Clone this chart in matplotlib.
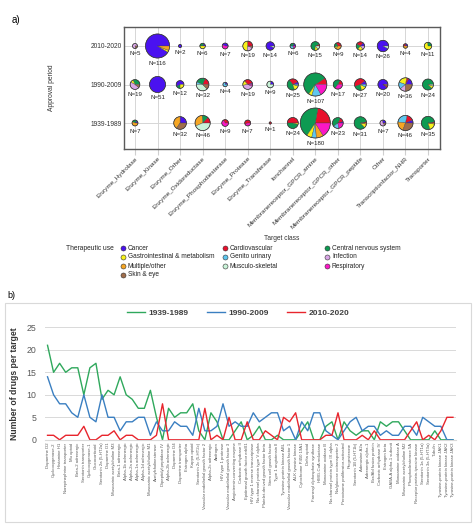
import numpy as np
import matplotlib
matplotlib.use("Agg")
import matplotlib.pyplot as plt
from matplotlib.patches import Wedge, Rectangle

plt.rcParams["font.family"] = ["Liberation Sans", "DejaVu Sans"]

# ---------------- panel a) data ----------------
target_classes = ["Enzyme_Hydrolase", "Enzyme_Kinase", "Enzyme_Other", "Enzyme_Oxidoreductase",
                  "Enzyme_Phosphodiesterase", "Enzyme_Protease", "Enzyme_Transferase", "Ionchannel",
                  "Membranereceptor_GPCR_amine", "Membranereceptor_GPCR_other",
                  "Membranereceptor_GPCR_peptide", "Other", "Transcriptionfactor_NHR", "Transporter"]
periods = ["1939-1989", "1990-2009", "2010-2020"]
uses = ["Cancer", "Cardiovascular", "Central nervous system", "Gastrointestinal & metabolism",
        "Genito urinary", "Infection", "Multiple/other", "Musculo-skeletal", "Respiratory", "Skin & eye"]
use_colors = ["#4a12f0", "#e8102c", "#0d9a52", "#f7f21a", "#5fc6ee",
              "#d9a6e6", "#f6a623", "#c9f3d8", "#fb17c6", "#a06e4c"]

# counts per therapeutic use (order of `uses`), one list per target class
pies_1939 = [[1, 0, 2, 0, 0, 0, 4, 0, 0, 0], [0] * 10, [8, 0, 0, 0, 0, 0, 13, 0, 0, 11],
             [0, 6, 6, 0, 0, 0, 14, 20, 0, 0], [0, 3, 0, 0, 0, 0, 0, 0, 6, 0],
             [0, 4, 0, 0, 0, 0, 0, 0, 3, 0], [0, 1, 0, 0, 0, 0, 0, 0, 0, 0],
             [0, 12, 11, 1, 0, 0, 0, 0, 0, 0], [0, 40, 78, 10, 9, 0, 14, 0, 29, 0],
             [1, 3, 10, 0, 4, 0, 0, 0, 5, 0], [0, 1, 26, 3, 0, 0, 1, 0, 0, 0],
             [2, 0, 0, 0, 0, 4, 0, 0, 0, 1], [3, 7, 0, 0, 12, 0, 10, 0, 0, 14],
             [0, 1, 27, 6, 0, 0, 1, 0, 0, 0]]
pies_1990 = [[0, 0, 6, 2, 0, 9, 0, 0, 0, 2], [51, 0, 0, 0, 0, 0, 0, 0, 0, 0],
             [7, 0, 2, 3, 0, 0, 0, 0, 0, 0], [0, 6, 8, 0, 2, 0, 0, 12, 0, 4],
             [1, 0, 0, 0, 3, 0, 0, 0, 0, 0], [1, 6, 0, 3, 0, 8, 0, 0, 1, 0],
             [2, 0, 0, 0, 0, 0, 0, 7, 0, 0], [2, 7, 11, 4, 1, 0, 0, 0, 0, 0],
             [0, 10, 60, 5, 14, 0, 0, 0, 18, 0], [0, 3, 8, 0, 0, 0, 0, 0, 6, 0],
             [3, 12, 6, 4, 2, 0, 0, 0, 0, 0], [18, 1, 0, 0, 0, 0, 0, 0, 0, 1],
             [6, 2, 0, 8, 6, 5, 0, 0, 0, 9], [0, 0, 21, 2, 0, 0, 0, 1, 0, 0]]
pies_2010 = [[0, 0, 0, 0, 0, 4, 0, 0, 0, 1], [106, 0, 0, 3, 0, 0, 7, 0, 0, 0],
             [2, 0, 0, 0, 0, 0, 0, 0, 0, 0], [1, 0, 2, 3, 0, 0, 0, 0, 0, 0],
             [3, 0, 0, 0, 0, 0, 0, 0, 4, 0], [0, 5, 0, 9, 0, 4, 0, 0, 0, 1],
             [13, 0, 0, 0, 0, 0, 0, 1, 0, 0], [1, 0, 2, 0, 2, 0, 0, 0, 1, 0],
             [0, 1, 10, 2, 0, 0, 0, 2, 0, 0], [0, 3, 2, 1, 0, 0, 3, 0, 0, 0],
             [2, 4, 3, 3, 0, 2, 0, 0, 0, 0], [24, 0, 0, 0, 0, 0, 0, 2, 0, 0],
             [1, 1, 0, 0, 0, 0, 2, 0, 0, 0], [0, 0, 3, 8, 0, 0, 0, 0, 0, 0]]

# ---------------- panel b) data ----------------
targets = ["Dopamine D2", "Cyclooxygenase-2", "Histamine H1", "Norepinephrine transporter", "Mu opioid",
           "Beta-2 adrenergic", "Serotonin transporter", "Cyclooxygenase-1", "Glucocorticoid",
           "Serotonin 2a (5-HT2a)", "Dopamine D1", "Muscarinic acetylcholine M3", "Beta-1 adrenergic",
           "Alpha-1b adrenergic", "Alpha-2a adrenergic", "Alpha-1a adrenergic", "Alpha-1d adrenergic",
           "Muscarinic acetylcholine M1", "Acetylcholinesterase", "Dipeptidyl peptidase IV",
           "Alpha-2b adrenergic", "Dopamine D4", "Dopamine transporter", "Estrogen alpha", "Kappa opioid",
           "Serotonin 2c (5-HT2c)", "Vascular endothelial growth factor 2", "Alpha-2c adrenergic",
           "Androgen", "HIV type 1 protease", "Vascular endothelial growth factor 3",
           "Angiotensin-converting enzyme", "Carbonic anhydrase II", "Epidermal growth factor erbB1",
           "HIV type 1 reverse transcriptase", "Na channel protein type V alpha",
           "Platelet-derived growth factor beta", "Stem cell growth factor", "Type 1 angiotensin II",
           "Tyrosine-protein kinase ABL", "Vascular endothelial growth factor 1", "ALK tyrosine kinase",
           "Cytochrome P450 19A1", "Delta opioid", "Farnesyl diphosphate synthase", "HMG-CoA reductase",
           "Monoamine oxidase B", "Na channel protein type IX alpha", "Na/glucose cotransporter 2",
           "Peroxisome proliferator-activated", "Progesterone", "Serotonin 1B (5-HT1b)", "Adenosine A2a",
           "Adrenergic alpha-1", "Bcr/Abl fusion protein", "Carbonic anhydrase IV", "Estrogen beta",
           "GABA-A alpha-1 subunit", "Monoamine oxidase A", "Muscarinic acetylcholine M2",
           "Phosphodiesterase 5A", "Receptor protein-tyrosine kinase", "Serotonin 1a (5-HT1a)",
           "Serotonin 3a (5-HT3a)", "Tubulin", "Tyrosine-protein kinase JAK1",
           "Tyrosine-protein kinase JAK2", "Tyrosine-protein kinase JAK3"]
drugs_1939 = [21, 15, 17, 15, 16, 16, 10, 16, 17, 9, 11, 10, 14, 10, 9, 7, 7, 11, 5, 0,
              7, 5, 6, 6, 8, 2, 0, 6, 4, 0, 0, 2, 4, 0, 1, 3, 0, 0, 1, 0,
              0, 0, 2, 4, 0, 0, 3, 4, 0, 4, 2, 1, 2, 2, 0, 4, 3, 4, 4, 2,
              0, 0, 0, 0, 2, 0, 0, 0]
drugs_1990 = [14, 10, 8, 8, 6, 5, 10, 5, 4, 10, 5, 5, 2, 4, 4, 5, 5, 1, 4, 2,
              2, 4, 3, 3, 1, 7, 2, 2, 3, 8, 3, 4, 3, 3, 6, 4, 5, 6, 6, 2,
              3, 0, 4, 2, 6, 6, 2, 1, 0, 2, 4, 5, 2, 3, 3, 1, 2, 1, 1, 3,
              3, 1, 5, 4, 3, 3, 0, 0]
drugs_2010 = [1, 1, 0, 1, 1, 1, 3, 0, 0, 1, 1, 2, 0, 1, 1, 0, 0, 0, 1, 8,
              0, 0, 0, 0, 0, 0, 7, 0, 1, 0, 5, 0, 0, 4, 0, 0, 2, 1, 0, 5,
              4, 6, 0, 0, 0, 0, 1, 1, 6, 0, 0, 0, 1, 0, 2, 0, 0, 0, 0, 0,
              2, 4, 0, 1, 0, 2, 5, 5]
line_labels = ["1939-1989", "1990-2009", "2010-2020"]
line_colors = ["#2fa85c", "#3a7fc1", "#e8252d"]

W, H = 474, 526
fig = plt.figure(figsize=(W / 100, H / 100), dpi=100)


def fx(px):
    return px / W


def fy(py):
    return 1 - py / H


# ---------------- panel a) ----------------
box_l, box_r, box_t, box_b = 124, 440, 27, 149
first_x, last_x = 135, 428
row_px = [123, 84.5, 46]
unit = (last_x - first_x) / (len(target_classes) - 1)

ax1 = fig.add_axes([fx(box_l), fy(box_b), fx(box_r - box_l), (box_b - box_t) / H])
ax1.set_xlim((box_l - first_x) / unit, len(target_classes) - 1 + (box_r - last_x) / unit)
row_y = [(row_px[0] - p) / unit for p in row_px]
ax1.set_ylim(-(box_b - row_px[0]) / unit, (row_px[0] - box_t) / unit)

ax1.set_xticks(range(len(target_classes)))
ax1.set_xticklabels(target_classes, rotation=45, ha="right", rotation_mode="anchor",
                    fontsize=4.6, color="#333333")
ax1.set_yticks(row_y)
ax1.set_yticklabels(periods, fontsize=4.8, color="#333333")
ax1.tick_params(axis="x", length=4, color="#cfcfcf", pad=1)
ax1.tick_params(axis="y", length=0, pad=1.5)
ax1.grid(True, color="#d6d6d6", lw=0.7)
ax1.set_axisbelow(True)
for sp in ax1.spines.values():
    sp.set_color("#5a5a5a")
    sp.set_linewidth(1.0)
ax1.set_ylabel("Approval period", fontsize=4.8, color="#333333")
ax1.yaxis.set_label_coords(-(box_l - 55) / (box_r - box_l), 0.5)

r_max = 15.0 / unit
n_max = 180
for pies, y in zip([pies_1939, pies_1990, pies_2010], row_y):
    for x, counts in enumerate(pies):
        n = sum(counts)
        if n == 0:
            continue
        r = r_max * np.sqrt(n / n_max)
        theta = 0.0
        for c, col in zip(counts, use_colors):
            if c == 0:
                continue
            span = 360.0 * c / n
            ax1.add_patch(Wedge((x, y), r, theta, theta + span, facecolor=col,
                                edgecolor="#444444", lw=0.25, zorder=3))
            theta += span
        ax1.add_patch(Wedge((x, y), r, 0, 360, facecolor="none", edgecolor="#333333",
                            lw=0.5, zorder=4))
        ax1.text(x, y - r - 2.6 / unit, f"N={n}", ha="center", va="top", fontsize=4.4,
                 color="#222222", zorder=5)

fig.text(fx(12), fy(20), "a)", fontsize=7, ha="left", va="center")
fig.text(fx(282), fy(238), "Target class", fontsize=4.8, ha="center", va="center", color="#333333")

# legend of therapeutic uses
fig.text(fx(114), fy(248), "Therapeutic use", fontsize=4.8, ha="right", va="center", color="#222222")
lax = fig.add_axes([0, 0, 1, 1])
lax.set_xlim(0, W)
lax.set_ylim(H, 0)
lax.axis("off")
for k, (u, col) in enumerate(zip(uses, use_colors)):
    cx = 123 + 102 * (k % 3)
    cy = 248 + 9 * (k // 3)
    lax.scatter([cx], [cy], s=13, color=col, edgecolors="#333333", linewidths=0.4)
    lax.text(cx + 5, cy, u, fontsize=4.7, ha="left", va="center", color="#222222")

# ---------------- panel b) ----------------
fig.text(fx(7), fy(296), "b)", fontsize=6.5, ha="left", va="center")
lax.add_patch(Rectangle((5, 303), 466, 219, fill=False, edgecolor="#d9d9d9", lw=0.8))

p_left, p_right, p_top, p_bottom = 44.5, 456, 327.3, 439.8
ax2 = fig.add_axes([fx(p_left), fy(p_bottom), fx(p_right - p_left), (p_bottom - p_top) / H])
xs = np.arange(len(targets))
for vals, lab, col in zip([drugs_1939, drugs_1990, drugs_2010], line_labels, line_colors):
    ax2.plot(xs, vals, color=col, lw=1.0, label=lab)
ax2.set_xlim(-0.5, len(targets) - 0.5)
ax2.set_ylim(0, 25)
ax2.set_yticks([0, 5, 10, 15, 20, 25])
ax2.set_xticks(xs)
ax2.set_xticklabels(targets, rotation=90, fontsize=3.1, color="#595959")
ax2.tick_params(axis="x", length=0, pad=2)
ax2.tick_params(axis="y", length=0, pad=6, labelsize=6.3, labelcolor="#595959")
ax2.grid(axis="y", color="#d9d9d9", lw=0.7)
ax2.set_axisbelow(True)
for side in ["top", "right", "left"]:
    ax2.spines[side].set_visible(False)
ax2.spines["bottom"].set_color("#d9d9d9")
ax2.set_ylabel("Number of drugs per target", fontsize=6.2, fontweight="bold", color="#333333")
ax2.yaxis.set_label_coords(-(p_left - 19) / (p_right - p_left), 0.5)
ax2.legend(loc="center", bbox_to_anchor=(0.47, (p_bottom - 313) / (p_bottom - p_top)), ncol=3,
           frameon=False, handlelength=2.2, columnspacing=2.2, handletextpad=0.4,
           prop={"size": 6, "weight": "bold"}, labelcolor="#404040")

fig.savefig("out.png", dpi=100)
